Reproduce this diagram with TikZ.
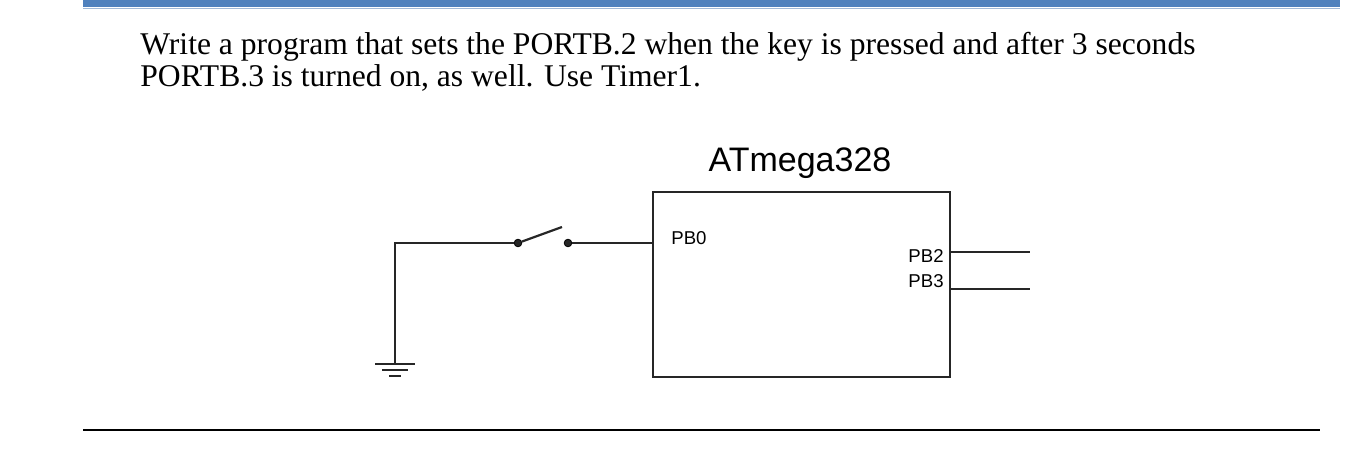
\documentclass[tikz,border=0pt]{standalone}
\usepackage{fontspec}
\setmainfont{Liberation Serif}
\newfontfamily\pinfont{Liberation Sans}

\begin{document}
\begin{tikzpicture}[x=0.5pt,y=-0.5pt,
	wire/.style={line width=1.1pt,color=black!85},
	pin/.style={font=\pinfont\fontsize{9.3}{11}\selectfont,inner sep=0pt},
	task/.style={anchor=base west,inner sep=0pt,font=\fontsize{15.8}{18}\selectfont},
	dot/.style={circle,draw,fill=black!85,inner sep=0pt,minimum size=3.8pt}]
			\useasboundingbox (0,0) rectangle (1356,458);
			\fill[color={rgb,255:red,79;green,129;blue,189}] (83,0) rectangle (1340,7);
			\draw[color={rgb,255:red,160;green,185;blue,215}] (83,8.5) -- (1340,8.5);
			\node[task] (line1) at (140,55) {Write a program that sets the PORTB.2 when the key is pressed and after 3 seconds};
			\node[task] (line2) at (140,87) {PORTB.3 is turned on, as well. Use Timer1.};

			\draw[wire] (653,192) rectangle (950,377);
			\node[pin,font=\pinfont\fontsize{17}{20}\selectfont] (chip) at (800,163) {ATmega328};
			\node[pin,anchor=west] (pb0) at (671,238) {PB0};
			\node[pin,anchor=east] (pb2) at (944,256) {PB2};
			\node[pin,anchor=east] (pb3) at (944,281) {PB3};

			\coordinate (in) at (653,243);
			\coordinate (out2) at (950,252);
			\coordinate (out3) at (950,289);
			\coordinate (end2) at (1030,252);
			\coordinate (end3) at (1030,289);
			\coordinate (corner) at (395,243);
			\coordinate (gnd) at (395,364);
			\node[dot] (swa) at (518,243) {};
			\node[dot] (swb) at (568,243) {};
			\coordinate (lever) at (562,227);

			\draw[wire] (in) -- (swb);
			\draw[wire] (swa) -- (lever);
			\draw[wire] (swa) -- (corner) -- (gnd);
			\draw[wire] (out2) -- (end2);
			\draw[wire] (out3) -- (end3);
			\draw[wire] (375,364) -- (415,364);
			\draw[wire] (382,370) -- (408,370);
			\draw[wire] (389,376) -- (401,376);

			\draw[line width=1.2pt] (83,430) -- (1320,430);
			\end{tikzpicture}
\end{document}
